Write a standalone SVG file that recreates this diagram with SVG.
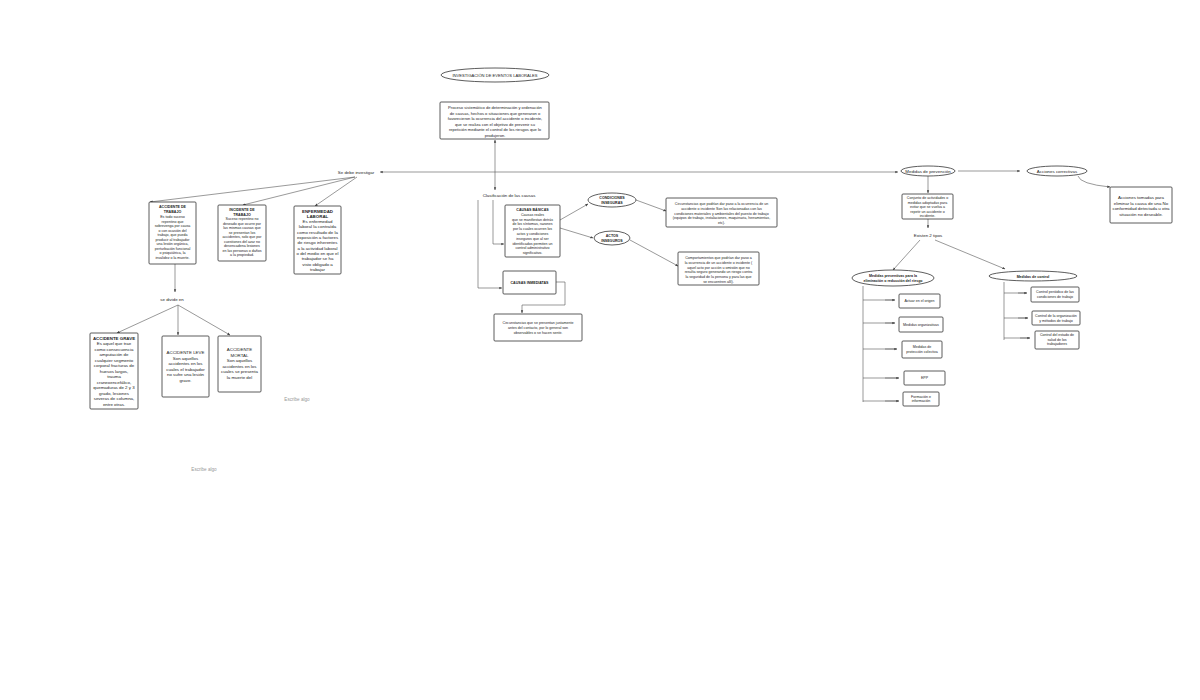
<svg xmlns="http://www.w3.org/2000/svg" width="1200" height="700" viewBox="0 0 1200 700">
<style>
text{font-family:"Liberation Sans",Arial,sans-serif;fill:#222;text-anchor:middle}
.t{font-size:3.6px}.l{font-size:4.4px}.d{font-size:4.1px}.b{font-weight:bold}
.box{fill:#fff;stroke:#333;stroke-width:0.8}
.c{fill:none;stroke:#555;stroke-width:0.6}
.g{fill:#999;font-size:4.6px}
</style>
<defs><marker id="a" viewBox="0 0 10 10" refX="9" refY="5" markerWidth="5" markerHeight="5" orient="auto-start-reverse"><path d="M0,1 L10,5 L0,9z" fill="#444"/></marker></defs>
<rect width="1200" height="700" fill="#fff"/>
<g id="connectors" class="c" marker-end="url(#a)">
<path d="M495,140 V190" marker-start="url(#a)"/>
<path d="M380,172 H898" marker-start="url(#a)"/>
<path d="M355,177 L150,202"/><path d="M355,177 L243,205"/><path d="M357,177 L315,206"/>
<path d="M175,264 V292"/>
<path d="M178,305 L117,333"/><path d="M178,305 V335"/><path d="M178,305 L230,335"/>
<path d="M493,200 V244 H504"/><path d="M478,200 V288 H502"/>
<path d="M556,282 H565 V305 H522 V313"/>
<path d="M560,220 L588,204"/><path d="M560,228 L593,238"/>
<path d="M636,200 L666,211"/><path d="M630,240 L678,266"/>
<path d="M958,171 H1020"/>
<path d="M1078,176 Q1080,184 1110,187"/>
<path d="M928,176 V193"/><path d="M928,219 V228"/>
<path d="M920,240 L893,270"/><path d="M935,240 L1005,269"/>
<path d="M863,286 V402 M863,300 H895 M863,323 H895 M863,349 H897 M863,378 H899 M863,401 H899" marker-end="none"/>
<path d="M885,300 H895"/><path d="M885,323 H895"/><path d="M885,349 H897"/><path d="M885,378 H899"/><path d="M885,401 H899"/>
<path d="M1004,282 V340 M1004,293 H1027 M1004,318 H1028 M1004,338 H1030" marker-end="none"/>
<path d="M1018,293 H1027"/><path d="M1018,318 H1028"/><path d="M1020,338 H1030"/>
</g>
<g id="n_title"><ellipse cx="495" cy="75" rx="54" ry="7" class="box"/><text x="495" y="77" class="d">INVESTIGACIÓN DE EVENTOS LABORALES</text></g>
<g id="n_def"><rect x="440" y="102" width="109" height="37" rx="1" class="box"/><text class="d"><tspan x="495" y="109">Proceso sistemático de determinación y ordenación</tspan><tspan x="495" y="114.5">de causas, hechos o situaciones que generaron o</tspan><tspan x="495" y="120">favorecieron la ocurrencia del accidente o incidente,</tspan><tspan x="495" y="125.5">que se realiza con el objetivo de prevenir su</tspan><tspan x="495" y="131">repetición mediante el control de los riesgos que lo</tspan><tspan x="495" y="136.5">produjeron.</tspan></text></g>
<g id="n_investigar"><text x="356" y="174" class="l">Se debe investigar</text></g>
<g id="n_acc"><rect x="149" y="202" width="47" height="62" rx="1" class="box"/><text class="t"><tspan x="172.5" y="208" class="b">ACCIDENTE DE</tspan><tspan x="172.5" y="213" class="b">TRABAJO</tspan><tspan x="172.5" y="218">Es todo suceso</tspan><tspan x="172.5" y="222.5">repentino que</tspan><tspan x="172.5" y="227">sobrevenga por causa</tspan><tspan x="172.5" y="231.5">o con ocasión del</tspan><tspan x="172.5" y="236">trabajo, que pueda</tspan><tspan x="172.5" y="240.5">producir al trabajador</tspan><tspan x="172.5" y="245">una lesión orgánica,</tspan><tspan x="172.5" y="249.5">perturbación funcional</tspan><tspan x="172.5" y="254">o psiquiátrica, la</tspan><tspan x="172.5" y="258.5">invalidez o la muerte.</tspan></text></g>
<g id="n_inc"><rect x="218" y="205" width="48" height="56" rx="1" class="box"/><text class="t"><tspan x="242" y="211" class="b">INCIDENTE DE</tspan><tspan x="242" y="215.5" class="b">TRABAJO</tspan><tspan x="242" y="220">Suceso repentino no</tspan><tspan x="242" y="224.5">deseado que ocurre por</tspan><tspan x="242" y="229">las mismas causas que</tspan><tspan x="242" y="233.5">se presentan los</tspan><tspan x="242" y="238">accidentes, solo que por</tspan><tspan x="242" y="242.5">cuestiones del azar no</tspan><tspan x="242" y="247">desencadena lesiones</tspan><tspan x="242" y="251.5">en las personas o daños</tspan><tspan x="242" y="256">a la propiedad.</tspan></text></g>
<g id="n_enf"><rect x="294" y="206" width="47" height="68" rx="1" class="box"/><text class="l"><tspan x="317.5" y="212.5" class="b">ENFERMEDAD</tspan><tspan x="317.5" y="217.8" class="b">LABORAL</tspan><tspan x="317.5" y="223.1">Es enfermedad</tspan><tspan x="317.5" y="228.4">laboral la contraída</tspan><tspan x="317.5" y="233.7">como resultado de la</tspan><tspan x="317.5" y="239">exposición a factores</tspan><tspan x="317.5" y="244.3">de riesgo  inherentes</tspan><tspan x="317.5" y="249.6">a la actividad laboral</tspan><tspan x="317.5" y="254.9">o del medio en que el</tspan><tspan x="317.5" y="260.2">trabajador se ha</tspan><tspan x="317.5" y="265.5">visto obligado a</tspan><tspan x="317.5" y="270.8">trabajar</tspan></text></g>
<g id="n_divide"><text x="172" y="301" class="l">se divide en</text></g>
<g id="n_grave"><rect x="90" y="333" width="48" height="76" rx="1" class="box"/><text class="l"><tspan x="114" y="339.5" class="b">ACCIDENTE GRAVE</tspan><tspan x="114" y="345">Es aquel  que trae</tspan><tspan x="114" y="350.5">como consecuencia</tspan><tspan x="114" y="356">amputación de</tspan><tspan x="114" y="361.5">cualquier segmento</tspan><tspan x="114" y="367">corporal  fracturas de</tspan><tspan x="114" y="372.5">huesos largos,</tspan><tspan x="114" y="378">trauma</tspan><tspan x="114" y="383.5">craneoencefálico,</tspan><tspan x="114" y="389">quemaduras de 2 y 3</tspan><tspan x="114" y="394.5">grado, lesiones</tspan><tspan x="114" y="400">severas de columna,</tspan><tspan x="114" y="405.5">entre otras.</tspan></text></g>
<g id="n_leve"><rect x="162" y="336" width="47" height="61" rx="1" class="box"/><text class="l"><tspan x="185.5" y="354">ACCIDENTE LEVE</tspan><tspan x="185.5" y="359.5">Son aquellos</tspan><tspan x="185.5" y="365">accidentes en los</tspan><tspan x="185.5" y="370.5">cuales el trabajador</tspan><tspan x="185.5" y="376">no sufre una lesión</tspan><tspan x="185.5" y="381.5">grave.</tspan></text></g>
<g id="n_mortal"><rect x="218" y="336" width="43" height="56" rx="1" class="box"/><text class="l"><tspan x="239.5" y="351">ACCIDENTE</tspan><tspan x="239.5" y="356.5">MORTAL</tspan><tspan x="239.5" y="362">Son aquellos</tspan><tspan x="239.5" y="367.5">accidentes en los</tspan><tspan x="239.5" y="373">cuales se presenta</tspan><tspan x="239.5" y="378.5">la  muerte del</tspan></text></g>
<g id="n_esc1"><text x="297" y="401" class="g">Escribe algo</text></g>
<g id="n_esc2"><text x="204" y="471" class="g">Escribe algo</text></g>
<g id="n_clasif"><text x="509" y="197" class="l">Clasificación de las causas</text></g>
<g id="n_basicas"><rect x="505" y="205" width="55" height="52" rx="1" class="box"/><text class="t"><tspan x="532.5" y="211" class="b">CAUSAS BÁSICAS</tspan><tspan x="532.5" y="215.8">Causas reales</tspan><tspan x="532.5" y="220.6">que se manifiestan detrás</tspan><tspan x="532.5" y="225.4">de los síntomas, razones</tspan><tspan x="532.5" y="230.2">por la cuales ocurren los</tspan><tspan x="532.5" y="235">actos y condiciones</tspan><tspan x="532.5" y="239.8">inseguros que al ser</tspan><tspan x="532.5" y="244.6">identificados permiten un</tspan><tspan x="532.5" y="249.4">control administrativo</tspan><tspan x="532.5" y="254.2">significativo.</tspan></text></g>
<g id="n_inmed"><rect x="503" y="271" width="53" height="23" rx="1" class="box"/><text x="529.5" y="284" class="t b">CAUSAS INMEDIATAS</text></g>
<g id="n_circ"><rect x="494" y="314" width="88" height="27" rx="1" class="box"/><text class="t"><tspan x="538" y="324">Circunstancias que se presentan justamente</tspan><tspan x="538" y="329">antes del contacto, por lo general son</tspan><tspan x="538" y="334">observables o se hacen sentir.</tspan></text></g>
<g id="n_cond"><ellipse cx="612" cy="200" rx="24" ry="7" class="box"/><text class="t b"><tspan x="612" y="199">CONDICIONES</tspan><tspan x="612" y="203.5">INSEGURAS</tspan></text></g>
<g id="n_actos"><ellipse cx="612" cy="238" rx="18" ry="7" class="box"/><text class="t b"><tspan x="612" y="237">ACTOS</tspan><tspan x="612" y="241.5">INSEGUROS</tspan></text></g>
<g id="n_condtxt"><rect x="666" y="198" width="111" height="29" rx="1" class="box"/><text class="t"><tspan x="721.5" y="205">Circunstancias que podrían dar paso  a la ocurrencia de un</tspan><tspan x="721.5" y="209.8">accidente o incidente Son las relacionadas con las</tspan><tspan x="721.5" y="214.6">condiciones materiales y ambientales del puesto de trabajo</tspan><tspan x="721.5" y="219.4">(equipos de trabajo, instalaciones, maquinaria, herramientas,</tspan><tspan x="721.5" y="224.2">etc).</tspan></text></g>
<g id="n_actostxt"><rect x="678" y="252" width="81" height="33" rx="1" class="box"/><text class="t"><tspan x="718.5" y="259">Comportamientos que podrían dar paso a</tspan><tspan x="718.5" y="263.8">la ocurrencia de un accidente o incidente (</tspan><tspan x="718.5" y="268.6">aquel acto por acción u omisión que no</tspan><tspan x="718.5" y="273.4">resulta seguro generando un riesgo contra</tspan><tspan x="718.5" y="278.2">la seguridad de la persona y para las que</tspan><tspan x="718.5" y="283">se encuentren allí).</tspan></text></g>
<g id="n_medprev"><ellipse cx="928" cy="171" rx="27" ry="5" class="box"/><text x="928" y="172.8" class="l">Medidas de prevención</text></g>
<g id="n_acc_corr"><ellipse cx="1057" cy="171" rx="30" ry="5" class="box"/><text x="1057" y="172.8" class="l">Acciones correctivas</text></g>
<g id="n_corrtxt"><rect x="1110" y="187" width="62" height="36" rx="1" class="box"/><text class="l"><tspan x="1141" y="199">Acciones tomadas para</tspan><tspan x="1141" y="204.5">eliminar la causa de una No</tspan><tspan x="1141" y="210">conformidad detectada u otra</tspan><tspan x="1141" y="215.5">situación no deseable.</tspan></text></g>
<g id="n_conj"><rect x="902" y="194" width="51" height="25" rx="1" class="box"/><text class="t"><tspan x="927.5" y="199">Conjunto de actividades o</tspan><tspan x="927.5" y="203.5">medidas adoptadas para</tspan><tspan x="927.5" y="208">evitar que se vuelva a</tspan><tspan x="927.5" y="212.5">repetir un accidente o</tspan><tspan x="927.5" y="217">incidente.</tspan></text></g>
<g id="n_tipos"><text x="928" y="237" class="l">Existen 2 tipos</text></g>
<g id="n_prevent"><ellipse cx="893" cy="278" rx="41" ry="8" class="box"/><text class="t b"><tspan x="893" y="277">Medidas preventivas para la</tspan><tspan x="893" y="281.5">eliminación o reducción del riesgo</tspan></text></g>
<g id="n_control"><ellipse cx="1033" cy="276" rx="44" ry="5" class="box"/><text x="1033" y="277.5" class="t b">Medidas de control</text></g>
<g id="n_p1"><rect x="899" y="294" width="41" height="14" rx="1" class="box"/><text x="919.5" y="302.3" class="t">Actuar en el origen</text></g>
<g id="n_p2"><rect x="899" y="317" width="44" height="15" rx="1" class="box"/><text x="921" y="325.8" class="t">Medidas organizativas</text></g>
<g id="n_p3"><rect x="902" y="341" width="40" height="17" rx="1" class="box"/><text class="t"><tspan x="922" y="348">Medidas de</tspan><tspan x="922" y="352.5">protección colectiva</tspan></text></g>
<g id="n_p4"><rect x="904" y="371" width="41" height="14" rx="1" class="box"/><text x="924.5" y="379.3" class="t">EPP</text></g>
<g id="n_p5"><rect x="903" y="392" width="36" height="14" rx="1" class="box"/><text class="t"><tspan x="921" y="397.5">Formación e</tspan><tspan x="921" y="402">información</tspan></text></g>
<g id="n_c1"><rect x="1031" y="287" width="48" height="15" rx="1" class="box"/><text class="t"><tspan x="1055" y="293">Control periódico de las</tspan><tspan x="1055" y="297.5">condiciones de trabajo</tspan></text></g>
<g id="n_c2"><rect x="1032" y="311" width="48" height="14" rx="1" class="box"/><text class="t"><tspan x="1056" y="317">Control de la organización</tspan><tspan x="1056" y="321.5">y métodos de trabajo</tspan></text></g>
<g id="n_c3"><rect x="1035" y="331" width="44" height="18" rx="1" class="box"/><text class="t"><tspan x="1057" y="336">Control del estado de</tspan><tspan x="1057" y="340.5">salud de los</tspan><tspan x="1057" y="345">trabajadores</tspan></text></g>
</svg>
